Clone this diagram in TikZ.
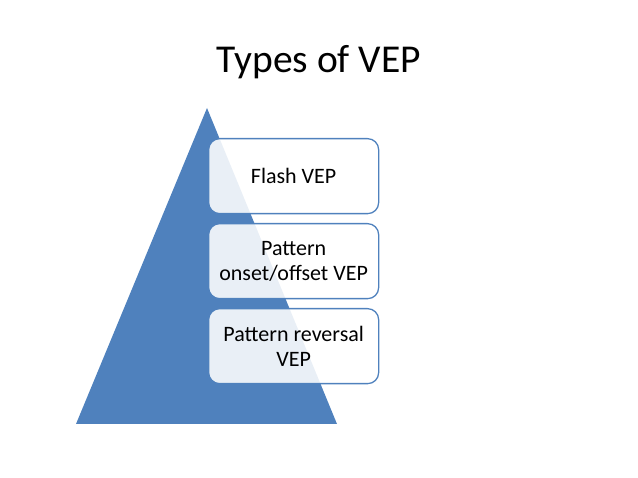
\documentclass[tikz,border=0pt]{standalone}
\usepackage{fontspec}
\setmainfont{Carlito}
\definecolor{tri}{RGB}{79,129,189}
\begin{document}
\begin{tikzpicture}[x=1pt,y=-1pt,
  box/.style={draw=tri,line width=1.3pt,fill=white,fill opacity=0.88,text opacity=1,rounded corners=11pt,minimum width=170pt,minimum height=75pt,anchor=north west,align=center,inner sep=2pt,font=\fontsize{22}{25}\selectfont},
]
\useasboundingbox (0,0) rectangle (638,478);
\node[font=\fontsize{39.5}{46}\selectfont] (title) at (319,62) {Types of VEP};
\fill[tri] (207,108) -- (337,424) -- (76,424) -- cycle;
\node[box] (b1) at (208,138) {Flash VEP};
\node[box] (b2) at (208,223) {Pattern\\onset/offset VEP};
\node[box] (b3) at (208,308) {Pattern reversal\\VEP};
\end{tikzpicture}
\end{document}
